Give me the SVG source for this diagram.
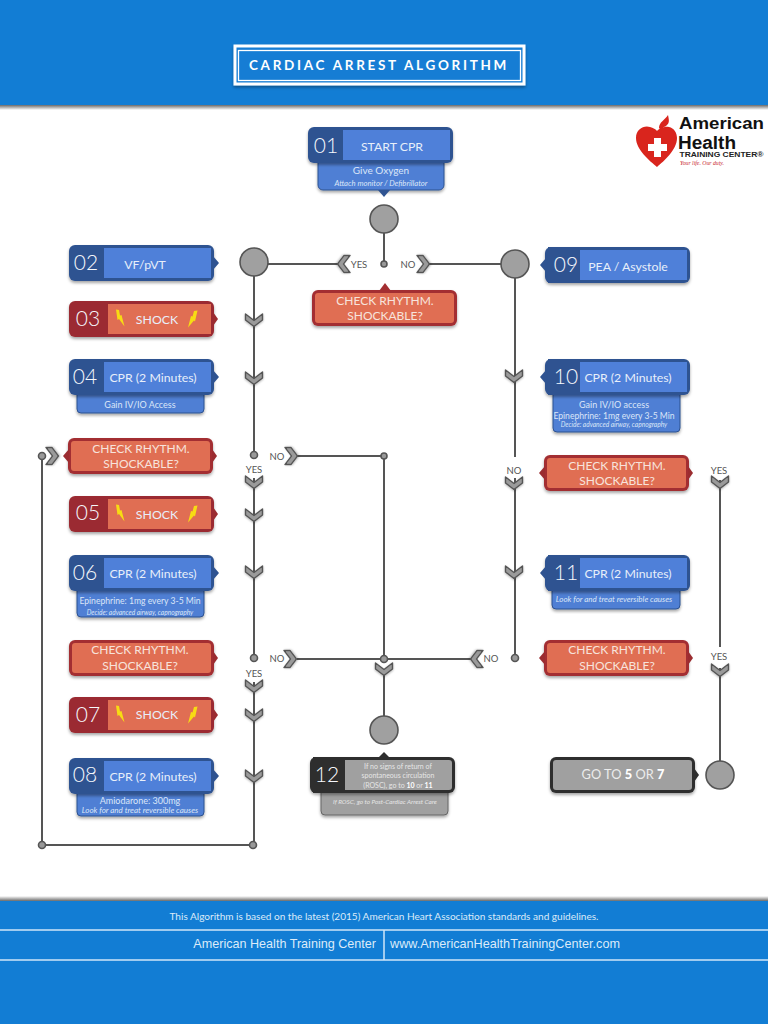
<svg xmlns="http://www.w3.org/2000/svg" width="768" height="1024" viewBox="0 0 768 1024">
<style>
text{font-family:Lato,"Open Sans","Liberation Sans",sans-serif;fill:#fff;text-anchor:middle}
.num{font-size:21px;font-weight:300;fill:#f6f8fc}
.lab{font-size:12.300px;fill:#e8effa}
.chk{font-size:12px;fill:#f7e3dc}
.sub{font-size:9px;fill:#dbe6f8}
.ep{font-size:8.600px;fill:#dbe6f8}
.tiny{font-size:6.600px;font-style:italic;fill:#dbe6f8}
.look{font-size:8px;font-style:italic;fill:#dbe6f8}
.gtiny{font-size:7px;fill:#e6e6e6}
.gros{font-size:6.400px;font-style:italic;fill:#e6e6e6}
.lbl{font-size:9.500px;fill:#555}
.line{fill:none;stroke:#555;stroke-width:2}
.dot{fill:#999;stroke:#555;stroke-width:1.600}
.big{fill:#a0a0a0;stroke:#555;stroke-width:1.600}
.foot{font-family:"Liberation Sans",Arial,sans-serif;fill:#dcebf9}
.logo{font-family:"Liberation Sans",Arial,sans-serif;font-weight:700;fill:#111;text-anchor:start}
</style>
<defs>
<filter id="sh" x="-10%" y="-15%" width="120%" height="140%"><feDropShadow dx="0" dy="2" stdDeviation="1.500" flood-color="#000" flood-opacity=".35"/></filter>
<filter id="csh" x="-30%" y="-30%" width="160%" height="160%"><feDropShadow dx="0" dy="1" stdDeviation="1" flood-color="#000" flood-opacity=".3"/></filter>
<linearGradient id="shTop" x1="0" y1="0" x2="0" y2="1"><stop offset="0" stop-color="#6a6a6a"/><stop offset="1" stop-color="#6a6a6a" stop-opacity="0"/></linearGradient>
<linearGradient id="shBot" x1="0" y1="1" x2="0" y2="0"><stop offset="0" stop-color="#6a6a6a"/><stop offset="1" stop-color="#6a6a6a" stop-opacity="0"/></linearGradient>
<g id="chev" filter="url(#csh)"><path d="M-8.500 -6L0 0.500L8.500 -6V0L0 6.500L-8.500 0Z" fill="#9a9a9a" stroke="#555" stroke-width="1.400" stroke-linejoin="round"/></g>
<path id="bolt" d="M-4 -8.500L-1 -8L0 -2.500L1.500 -3L4.500 8.500L-1 1L-2.500 2Z" fill="#f7dc13"/>
<path id="bolt2" d="M4.500 -8.500L1 -8L-0.500 -2.500L-2 -3L-5 8.500L1 1.500L2 2.500Z" fill="#f7dc13"/>
<g id="blue" filter="url(#sh)"><rect width="145" height="36" rx="6" fill="#2f5391"/><rect x="35" y="3" width="107" height="30" fill="#4f80d9"/></g>
<g id="red" filter="url(#sh)"><rect width="145" height="36" rx="6" fill="#9b2c30"/><rect x="39" y="3" width="103" height="30" fill="#e06e52"/></g>
<g id="chk" filter="url(#sh)"><rect width="145" height="36" rx="6" fill="#a32e31"/><rect x="3" y="3" width="139" height="30" rx="3" fill="#e06e52"/></g>
<g id="gry" filter="url(#sh)"><rect width="145" height="36" rx="6" fill="#2e2e2e"/><rect x="3" y="3" width="139" height="30" rx="3" fill="#a0a0a0"/></g>
<path id="pr-b" d="M144 11L150 18L144 25Z" fill="#2f5391"/>
<path id="pl-b" d="M1 11L-5 18L1 25Z" fill="#2f5391"/>
<path id="pr-r" d="M144 11L149 18L144 25Z" fill="#9b2c30"/>
<path id="pl-r" d="M1 11L-5 18L1 25Z" fill="#9b2c30"/>
</defs>

<rect width="768" height="1024" fill="#fff"/>

<g id="header">
<rect x="0" y="105" width="768" height="5" fill="url(#shTop)"/>
<rect x="0" y="0" width="768" height="105" fill="#127dd4"/>
<rect x="235" y="46" width="289" height="38" fill="#127dd4" stroke="#fff" stroke-width="3" filter="url(#sh)"/>
<rect x="238.500" y="50.500" width="282" height="30" fill="none" stroke="#fff" stroke-width="1.300"/>
<text x="379" y="70" font-size="13.500" font-weight="700" letter-spacing="2.700">CARDIAC ARREST ALGORITHM</text>
</g>

<g id="logo">
<path d="M659 128C659 122 665 120 668 115C669 120 670 123 666 126C664 127 662 128 661 130Z" fill="#d9251d"/>
<path d="M657 167C650 161 636 150 636 138C636 129 644 125 650 127C653 128 656 129 657 131C659 129 664 126 669 127C674 128 677 133 677 138C677 150 664 161 657 167Z" fill="#d9251d"/>
<path d="M654 138H661V144H667V151H661V157H654V151H648V144H654Z" fill="#fff"/>
<text class="logo" x="679" y="129" font-size="17" textLength="85" lengthAdjust="spacingAndGlyphs">American</text>
<text class="logo" x="678" y="148.500" font-size="17.500" textLength="58" lengthAdjust="spacingAndGlyphs">Health</text>
<text class="logo" x="679.500" y="157" font-size="7" textLength="84" lengthAdjust="spacingAndGlyphs" style="fill:#222">TRAINING CENTER®</text>
<text x="680" y="164.500" font-size="6" font-style="italic" textLength="44" lengthAdjust="spacingAndGlyphs" style="font-family:'Liberation Serif',serif;fill:#c8252b;text-anchor:start">Your life. Our duty.</text>
</g>

<g id="connectors">
<path class="line" d="M384 233V264M268 264H340M428 264H501"/>
<path class="line" d="M254 276V455M254 478V654M254 682V845M42 845H254M42 456V845"/>
<path class="line" d="M297 456H384V658"/>
<path class="line" d="M297 659H472M384 672V716"/>
<path class="line" d="M515 278V457M515 478V654"/>
<path class="line" d="M720 480V647M720 668V761"/>
<use href="#chev" transform="translate(254 320)"/>
<use href="#chev" transform="translate(254 378)"/>
<use href="#chev" transform="translate(254 482)"/>
<use href="#chev" transform="translate(254 515)"/>
<use href="#chev" transform="translate(254 572)"/>
<use href="#chev" transform="translate(254 686)"/>
<use href="#chev" transform="translate(254 715)"/>
<use href="#chev" transform="translate(254 776)"/>
<use href="#chev" transform="translate(514 376)"/>
<use href="#chev" transform="translate(514 483)"/>
<use href="#chev" transform="translate(514 572)"/>
<use href="#chev" transform="translate(720 482)"/>
<use href="#chev" transform="translate(720 670)"/>
<use href="#chev" transform="translate(384 669)"/>
<use href="#chev" transform="translate(344 264) rotate(90)"/>
<use href="#chev" transform="translate(423 264) rotate(-90)"/>
<use href="#chev" transform="translate(52 456) rotate(-90)"/>
<use href="#chev" transform="translate(291 456) rotate(-90)"/>
<use href="#chev" transform="translate(290 659) rotate(-90)"/>
<use href="#chev" transform="translate(477 659) rotate(90)"/>
<circle class="dot" cx="384" cy="264" r="3"/>
<circle class="dot" cx="254" cy="455" r="3.500"/>
<circle class="dot" cx="384" cy="456" r="3"/>
<circle class="dot" cx="42" cy="456" r="3.500"/>
<circle class="dot" cx="254" cy="658" r="3.500"/>
<circle class="dot" cx="384" cy="659" r="3.500"/>
<circle class="dot" cx="515" cy="658" r="3.500"/>
<circle class="dot" cx="253" cy="845" r="3.500"/>
<circle class="dot" cx="42" cy="845" r="3.500"/>
<circle class="big" cx="384" cy="219" r="14"/>
<circle class="big" cx="254" cy="262" r="14"/>
<circle class="big" cx="515" cy="264" r="14"/>
<circle class="big" cx="384" cy="730" r="14"/>
<circle class="big" cx="720" cy="775" r="14"/>
<text class="lbl" x="359" y="268">YES</text>
<text class="lbl" x="408" y="268">NO</text>
<text class="lbl" x="254" y="473">YES</text>
<text class="lbl" x="277" y="460">NO</text>
<text class="lbl" x="514" y="474">NO</text>
<text class="lbl" x="719" y="474">YES</text>
<text class="lbl" x="254" y="677">YES</text>
<text class="lbl" x="277" y="662">NO</text>
<text class="lbl" x="491" y="662">NO</text>
<text class="lbl" x="719" y="660">YES</text>
</g>

<g id="n01" transform="translate(308 127)">
<path d="M10 34H136V58a5 5 0 0 1-5 5H15a5 5 0 0 1-5-5Z" fill="#4f7fd4" stroke="#2f5391" stroke-width="1" filter="url(#sh)"/>
<path d="M70 63H82L76 70Z" fill="#2f5391"/>
<use href="#blue"/>
<text class="num" x="18" y="26">01</text><text class="lab" x="84" y="24">START CPR</text>
<text class="sub" x="73" y="47" style="font-size:10px">Give Oxygen</text><text class="tiny" x="73" y="59" style="font-size:7.700px">Attach monitor / Defibrillator</text>
</g>
<g id="n02" transform="translate(69 245)"><use href="#blue"/><use href="#pr-b"/><text class="num" x="17" y="25">02</text><text class="lab" x="76" y="24">VF/pVT</text></g>
<g id="n09" transform="translate(545 247)"><use href="#blue"/><rect x="3" y="0" width="32" height="36" fill="#2f5391"/><use href="#pl-b"/><text class="num" x="21" y="25">09</text><text class="lab" x="83" y="24">PEA / Asystole</text></g>
<g id="chk-top" transform="translate(312 290)"><use href="#chk"/><path d="M67 1L73 -7L79 1Z" fill="#a32e31"/><text class="chk" x="73" y="15">CHECK RHYTHM.</text><text class="chk" x="73" y="30">SHOCKABLE?</text></g>
<g id="n03" transform="translate(69 301)"><use href="#red"/><use href="#pr-r"/><text class="num" x="19" y="25">03</text><use href="#bolt" transform="translate(51 17)"/><text class="lab" x="88" y="23">SHOCK</text><use href="#bolt2" transform="translate(124 18)"/></g>
<g id="n04" transform="translate(69 359)">
<path d="M8 34H135V50a4 4 0 0 1-4 4H12a4 4 0 0 1-4-4Z" fill="#4f7fd4" stroke="#2f5391" filter="url(#sh)"/>
<use href="#blue"/><use href="#pr-b"/><text class="num" x="16" y="25">04</text><text class="lab" x="84" y="23">CPR (2 Minutes)</text><text class="sub" x="71" y="49">Gain IV/IO Access</text></g>
<g id="chk-l1" transform="translate(68 438)"><use href="#chk"/><use href="#pl-r"/><use href="#pr-r"/><text class="chk" x="73" y="15">CHECK RHYTHM.</text><text class="chk" x="73" y="30">SHOCKABLE?</text></g>
<g id="n05" transform="translate(69 496)"><use href="#red"/><use href="#pr-r"/><text class="num" x="19" y="24">05</text><use href="#bolt" transform="translate(51 17)"/><text class="lab" x="88" y="23">SHOCK</text><use href="#bolt2" transform="translate(124 18)"/></g>
<g id="n06" transform="translate(69 555)">
<path d="M8 34H135V58a4 4 0 0 1-4 4H12a4 4 0 0 1-4-4Z" fill="#4f7fd4" stroke="#2f5391" filter="url(#sh)"/>
<use href="#blue"/><use href="#pr-b"/><text class="num" x="16" y="25">06</text><text class="lab" x="84" y="23">CPR (2 Minutes)</text><text class="ep" x="71" y="49">Epinephrine: 1mg every 3-5 Min</text><text class="tiny" x="71" y="60">Decide: advanced airway, capnography</text></g>
<g id="chk-l2" transform="translate(69 640)"><use href="#chk"/><use href="#pr-r"/><text class="chk" x="71" y="14">CHECK RHYTHM.</text><text class="chk" x="71" y="30">SHOCKABLE?</text></g>
<g id="n07" transform="translate(69 697)"><use href="#red"/><use href="#pr-r"/><text class="num" x="19" y="25">07</text><use href="#bolt" transform="translate(51 17)"/><text class="lab" x="88" y="22">SHOCK</text><use href="#bolt2" transform="translate(124 18)"/></g>
<g id="n08" transform="translate(69 758)">
<path d="M8 34H135V54a4 4 0 0 1-4 4H12a4 4 0 0 1-4-4Z" fill="#4f7fd4" stroke="#2f5391" filter="url(#sh)"/>
<use href="#blue"/><use href="#pr-b"/><text class="num" x="16" y="24">08</text><text class="lab" x="84" y="23">CPR (2 Minutes)</text><text class="sub" x="71" y="46">Amiodarone: 300mg</text><text class="look" x="71" y="55">Look for and treat reversible causes</text></g>
<g id="n10" transform="translate(545 359)">
<path d="M8 34H135V69a4 4 0 0 1-4 4H12a4 4 0 0 1-4-4Z" fill="#4f7fd4" stroke="#2f5391" filter="url(#sh)"/>
<use href="#blue"/><rect x="3" y="0" width="32" height="36" fill="#2f5391"/><use href="#pl-b"/><text class="num" x="21" y="25">10</text><text class="lab" x="83" y="23">CPR (2 Minutes)</text>
<text class="sub" x="69" y="49">Gain IV/IO access</text><text class="ep" x="69" y="60">Epinephrine: 1mg every 3-5 Min</text><text class="tiny" x="69" y="68">Decide: advanced airway, capnography</text></g>
<g id="chk-r1" transform="translate(544 455)"><use href="#chk"/><use href="#pl-r"/><use href="#pr-r"/><text class="chk" x="73" y="15">CHECK RHYTHM.</text><text class="chk" x="73" y="30">SHOCKABLE?</text></g>
<g id="n11" transform="translate(545 555)">
<path d="M7 34H135V50a4 4 0 0 1-4 4H11a4 4 0 0 1-4-4Z" fill="#4f7fd4" stroke="#2f5391" filter="url(#sh)"/>
<use href="#blue"/><rect x="3" y="0" width="32" height="36" fill="#2f5391"/><use href="#pl-b"/><text class="num" x="21" y="25">11</text><text class="lab" x="83" y="23">CPR (2 Minutes)</text><text class="look" x="69" y="47">Look for and treat reversible causes</text></g>
<g id="chk-r2" transform="translate(544 640)"><use href="#chk"/><use href="#pl-r"/><use href="#pr-r"/><text class="chk" x="73" y="14">CHECK RHYTHM.</text><text class="chk" x="73" y="30">SHOCKABLE?</text></g>
<g id="n12" transform="translate(310 757)">
<path d="M11 34H138V54a4 4 0 0 1-4 4H15a4 4 0 0 1-4-4Z" fill="#a0a0a0" stroke="#666" filter="url(#sh)"/>
<use href="#gry"/><rect x="3" y="0" width="32" height="36" fill="#2e2e2e"/><path d="M68 1L74 -5L80 1Z" fill="#2e2e2e"/>
<text class="num" x="17" y="25">12</text>
<text class="gtiny" x="88" y="12">If no signs of return of</text><text class="gtiny" x="88" y="21">spontaneous circulation</text><text class="gtiny" x="88" y="31">(ROSC), go to <tspan font-weight="700" fill="#fff">10</tspan> or <tspan font-weight="700" fill="#fff">11</tspan></text>
<text class="gros" x="75" y="47">If ROSC, go to Post-Cardiac Arrest Care</text></g>
<g id="goto" transform="translate(550 757)"><use href="#gry"/><path d="M144 11L149 18L144 25Z" fill="#2e2e2e"/><text x="73" y="22" font-size="12.800" style="fill:#ececec">GO TO <tspan font-weight="900" fill="#fff">5</tspan> OR <tspan font-weight="900" fill="#fff">7</tspan></text></g>

<g id="footer">
<rect x="0" y="896" width="768" height="5" fill="url(#shBot)"/>
<rect x="0" y="901" width="768" height="123" fill="#127dd4"/>
<path d="M0 930H768M0 960H768M384 930V960" fill="none" stroke="#cfe5f8" stroke-width="1.500"/>
<text x="384" y="920" font-size="9.300" textLength="429" lengthAdjust="spacingAndGlyphs" style="fill:#dcebf9">This Algorithm is based on the latest (2015) American Heart Association standards and guidelines.</text>
<text class="foot" x="376" y="948" font-size="12.600" style="text-anchor:end">American Health Training Center</text>
<text class="foot" x="390" y="948" font-size="12.600" textLength="230" lengthAdjust="spacingAndGlyphs" style="text-anchor:start">www.AmericanHealthTrainingCenter.com</text>
</g>
</svg>
